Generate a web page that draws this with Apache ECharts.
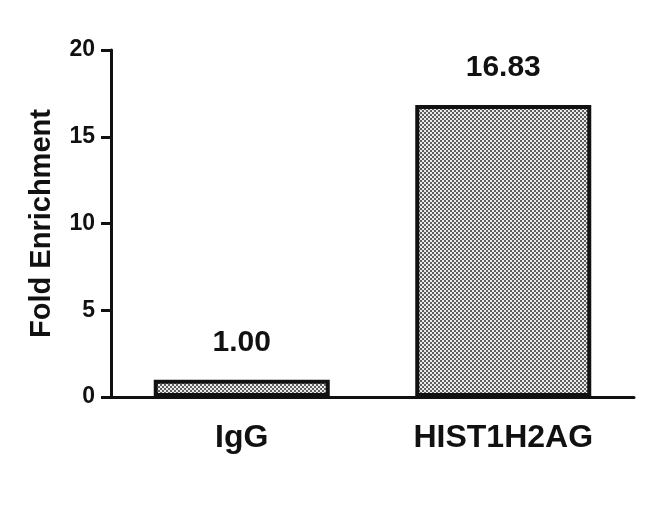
<!DOCTYPE html>
<html>
<head>
<meta charset="utf-8">
<script src="https://cdn.jsdelivr.net/npm/echarts@6/dist/echarts.min.js"></script>
<style>
html,body{margin:0;padding:0;background:#fff;}
#chart{width:650px;height:519px;}
</style>
</head>
<body>
<div id="chart"></div>
<script>
var categories = ['IgG', 'HIST1H2AG'];
var values = [1.00, 16.83];
var yTicks = [0, 5, 10, 15, 20];

var pc = document.createElement('canvas');
pc.width = 4; pc.height = 4;
var ctx = pc.getContext('2d');
ctx.fillStyle = '#ebebeb';
ctx.fillRect(0, 0, 4, 4);
ctx.fillStyle = '#5f5f5f';
ctx.fillRect(0, 0, 2, 2);
ctx.fillRect(2, 2, 2, 2);

var chart = echarts.init(document.getElementById('chart'));
var font = 'Liberation Sans, Arial, sans-serif';
chart.setOption({
  animation: false,
  grid: { left: 111, right: 16, top: 50, bottom: 122 },
  xAxis: {
    type: 'category',
    data: categories,
    axisLine: { lineStyle: { color: '#111', width: 3 } },
    axisTick: { alignWithLabel: true, length: 10, lineStyle: { color: '#111', width: 3 } },
    axisLabel: { color: '#111', fontSize: 32, fontWeight: 'bold', fontFamily: font, margin: 25 }
  },
  yAxis: {
    type: 'value',
    min: yTicks[0],
    max: yTicks[yTicks.length - 1],
    interval: 5,
    name: 'Fold Enrichment',
    nameLocation: 'middle',
    nameGap: 55,
    nameTextStyle: { color: '#111', fontSize: 29, fontWeight: 'bold', fontFamily: font },
    axisLine: { show: true, lineStyle: { color: '#111', width: 3 } },
    axisTick: { show: true, length: 10, lineStyle: { color: '#111', width: 3 } },
    axisLabel: { color: '#111', fontSize: 23, fontWeight: 'bold', fontFamily: font, margin: 16 },
    splitLine: { show: false }
  },
  series: [{
    type: 'bar',
    data: values,
    barWidth: 176,
    itemStyle: {
      color: { image: pc, repeat: 'repeat' },
      borderColor: '#111',
      borderWidth: 4
    },
    label: {
      show: true,
      position: 'top',
      distance: 22,
      color: '#111',
      fontSize: 30,
      fontWeight: 'bold',
      fontFamily: font,
      formatter: function (p) { return p.value.toFixed(2); }
    }
  }]
});
</script>
</body>
</html>
